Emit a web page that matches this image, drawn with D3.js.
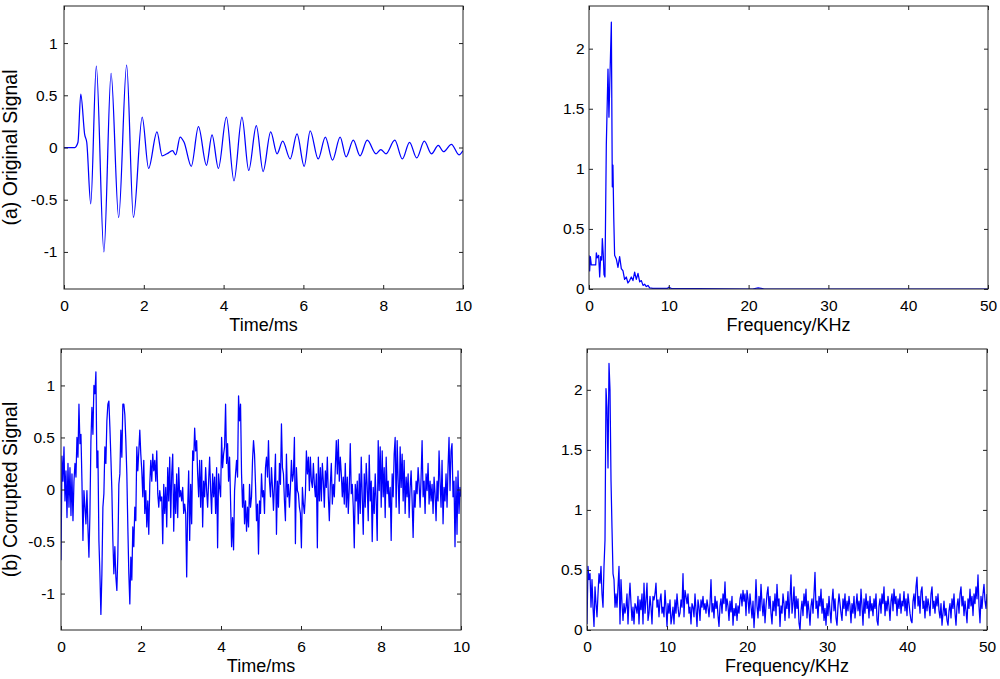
<!DOCTYPE html>
<html>
<head>
<meta charset="utf-8">
<script src="https://cdn.jsdelivr.net/npm/d3@7"></script>
<style>
  body { margin: 0; background: #fff; }
  svg text { font-family: "Liberation Sans", Arial, sans-serif; fill: #000; }
</style>
</head>
<body>
<svg id="chart" width="1000" height="679"></svg>
<script>
const origTime = [0, 0.27, 0.35, 0.42, 0.52, 0.57, 0.67, 0.81, 1.0, 1.18, 1.37, 1.57, 1.74, 1.96, 2.12, 2.33,
  2.46, 2.58, 2.72, 2.8, 2.91, 3.01, 3.19, 3.37, 3.57, 3.71, 3.87, 4.07, 4.26, 4.46, 4.63, 4.82, 4.99,
  5.18, 5.34, 5.48, 5.67, 5.84, 6.02, 6.17, 6.37, 6.55, 6.73, 6.92, 7.07, 7.25, 7.42, 7.6, 7.82, 7.94,
  8.07, 8.29, 8.48, 8.66, 8.84, 9.03, 9.21, 9.38, 9.51, 9.71, 9.9, 10];
const origValue = [0, 0, 0.05, 0.51, 0.12, 0.05, -0.54, 0.78, -1.0, 0.71, -0.67, 0.79, -0.67, 0.29, -0.2, 0.15,
  -0.08, -0.06, -0.03, -0.07, 0.1, 0.05, -0.18, 0.2, -0.17, 0.12, -0.2, 0.29, -0.32, 0.29, -0.22, 0.21, -0.23,
  0.15, -0.06, 0.06, -0.11, 0.13, -0.18, 0.16, -0.11, 0.1, -0.12, 0.1, -0.09, 0.07, -0.08, 0.07, -0.06, -0.02,
  -0.06, 0.07, -0.11, 0.05, -0.1, 0.06, -0.06, 0.02, -0.04, 0.03, -0.07, -0.03];

// spectrum of the original signal (frequency in KHz, magnitude)
const origFreq = [0, 0.08, 0.17, 0.29, 0.5, 0.84, 0.92, 1.04, 1.21, 1.34, 1.46, 1.59, 1.67, 1.8, 1.88, 2.0,
  2.17, 2.38, 2.5, 2.6, 2.8, 2.92, 3.0, 3.1, 3.21, 3.42, 3.63, 3.84, 4.05, 4.26, 4.46, 4.67, 4.88, 5.09,
  5.3, 5.51, 5.72, 5.93, 6.14, 6.35, 6.56, 6.77, 6.97, 7.18, 7.39, 7.6, 8.0, 9.8, 10.0, 10.3, 20.5, 21.2, 22, 50];
const origMag = [0.28, 0.15, 0.27, 0.2, 0.2, 0.2, 0.3, 0.26, 0.28, 0.1, 0.27, 0.24, 0.42, 0.27, 0.12, 0.1,
  1.2, 1.83, 1.43, 1.7, 2.22, 0.85, 1.03, 0.6, 0.28, 0.25, 0.18, 0.27, 0.17, 0.15, 0.08, 0.1, 0.05, 0.07,
  0.1, 0.07, 0.14, 0.08, 0.13, 0.06, 0.07, 0.03, 0.04, 0.02, 0.03, 0.01, 0.005, 0.005, 0.015, 0.005, 0, 0.01, 0, 0];

// (b) corrupted signal, evenly sampled over 0..10 ms
const noisyValue = [
  -0.68, 0.32, 0.08, 0.41, -0.11, 0.18, -0.27, 0.25, -0.17, 0.21,
  -0.25, 0.15, -0.30, 0.08, 0.25, 0.12, 0.50, 0.31, 0.82, 0.44,
  0.53, 0.08, -0.49, -0.01, -0.17, -0.33, -0.01, -0.36, -0.65, -0.23,
  0.47, 0.79, 0.53, 1.0, 0.92, 1.13, 0.21, 0.37, -0.49, -0.81,
  -1.2, -0.81, -0.17, -0.04, 0.41, 0.25, 0.66, 0.82, 0.85, 0.60,
  0.31, -0.01, -0.49, -0.81, -0.55, -0.84, -0.97, -0.62, 0.05, 0.15,
  0.57, 0.31, 0.82, 0.82, 0.72, 0.47, 0.15, -0.36, -0.81, -1.1,
  -0.65, -0.87, -0.36, -0.55, -0.17, -0.30, 0.41, 0.18, 0.37, 0.57,
  0.34, 0.18, -0.07, 0.28, -0.23, -0.01, -0.36, -0.11, -0.43, 0.05,
  0.28, 0.08, 0.34, 0.18, 0.28, 0.08, 0.37, -0.04, -0.17, -0.01,
  -0.11, -0.07, -0.52, 0.05, -0.23, 0.02, -0.36, 0.21, -0.11, 0.31,
  -0.27, 0.15, 0.34, -0.40, 0.05, -0.23, 0.15, -0.27, 0.21, -0.07,
  -0.01, -0.11, 0.02, -0.23, -0.14, -0.23, -0.84, -0.17, 0.18, -0.49,
  0.05, -0.33, 0.37, 0.28, 0.59, 0.37, 0.47, 0.15, -0.07, 0.28,
  -0.17, 0.28, -0.36, 0.08, -0.07, 0.21, -0.01, -0.17, 0.08, 0.31,
  -0.01, -0.23, 0.15, -0.07, 0.12, -0.23, 0.21, -0.56, 0.15, 0.02,
  -0.07, 0.50, 0.21, 0.34, 0.41, 0.82, 0.25, 0.44, 0.08, 0.31,
  -0.11, -0.55, -0.27, -0.58, -0.01, 0.15, 0.28, 0.12, 0.90, 0.66,
  0.82, 0.15, -0.17, 0.05, -0.33, -0.11, -0.40, -0.17, -0.36, 0.05,
  -0.17, -0.07, 0.28, 0.47, 0.34, 0.05, -0.30, -0.14, -0.62, -0.11,
  -0.23, 0.15, -0.07, -0.01, -0.23, 0.21, 0.31, 0.12, 0.47, 0.08,
  -0.07, 0.21, 0.02, -0.20, 0.05, 0.34, -0.43, 0.08, -0.17, 0.25,
  0.05, 0.63, 0.21, 0.15, -0.11, -0.30, 0.34, -0.07, 0.05, -0.17,
  0.02, 0.28, 0.08, 0.15, 0.50, -0.52, 0.21, -0.01, -0.04, -0.17,
  -0.23, -0.56, 0.02, -0.14, -0.23, -0.04, 0.37, 0.15, 0.31, -0.01,
  0.31, 0.08, 0.02, 0.25, 0.05, -0.07, 0.15, -0.56, 0.31, -0.11,
  0.21, -0.11, 0.25, 0.08, -0.17, 0.18, 0.02, 0.31, -0.07, -0.30,
  0.05, 0.25, -0.14, 0.05, -0.07, 0.21, 0.47, 0.15, 0.48, 0.08,
  0.31, 0.15, -0.07, 0.12, -0.14, 0.25, -0.17, 0.12, -0.23, 0.02,
  0.44, -0.04, 0.05, -0.17, -0.56, 0.05, -0.11, 0.08, -0.33, 0.15,
  -0.23, 0.31, -0.07, -0.43, 0.15, -0.17, 0.25, 0.02, -0.30, 0.33,
  -0.11, 0.08, -0.50, 0.02, -0.23, 0.15, -0.11, -0.49, 0.47, -0.01,
  0.41, -0.17, 0.37, -0.07, 0.21, -0.27, 0.31, -0.04, 0.08, -0.17,
  0.02, -0.49, 0.15, -0.07, 0.34, 0.50, -0.17, 0.47, 0.08, -0.23,
  0.41, 0.02, 0.34, -0.11, 0.28, -0.23, 0.12, -0.07, 0.15, -0.27,
  0.02, 0.18, -0.11, -0.46, -0.01, -0.17, 0.08, -0.04, 0.21, 0.05,
  -0.17, 0.12, 0.47, -0.07, 0.08, -0.23, 0.15, -0.01, 0.25, -0.14,
  0.08, -0.11, 0.05, -0.23, 0.12, -0.04, -0.30, 0.08, -0.11, 0.37,
  0.08, -0.17, 0.28, -0.33, 0.02, -0.11, 0.15, -0.17, 0.21, 0.50,
  -0.01, 0.37, 0.44, -0.07, 0.08, -0.55, 0.12, -0.43, 0.18, -0.23,
  0.02, -0.07];

// spectrum of the corrupted signal, evenly sampled over 0..50 KHz
const noisyMag = [
  0.05, 0.53, 0.42, 0.47, 0.19, 0.42, 0.19, 0.03, 0.36, 0.22, 0.11, 0.30, 0.47, 0.39, 0.53, 0.30, 0.19, 0.53,
  0.75, 2.01, 1.85, 1.35, 2.22, 2.0, 1.25, 0.85, 0.47,
  0.42, 0.19, 0.30, 0.19, 0.36, 0.53, 0.05, 0.42, 0.22, 0.08,
  0.22, 0.14, 0.19, 0.30, 0.05, 0.25, 0.39, 0.22, 0.08, 0.19,
  0.05, 0.22, 0.19, 0.14, 0.28, 0.05, 0.25, 0.17, 0.30, 0.05,
  0.39, 0.14, 0.25, 0.39, 0.08, 0.14, 0.28, 0.19, 0.05, 0.28,
  0.25, 0.30, 0.39, 0.19, 0.25, 0.11, 0.25, 0.30, 0.14, 0.19,
  0.11, 0.33, 0.19, 0.03, 0.22, 0.14, 0.25, 0.05, 0.11, 0.19,
  0.05, 0.25, 0.14, 0.30, 0.19, 0.11, 0.14, 0.25, 0.19, 0.47,
  0.11, 0.33, 0.28, 0.22, 0.30, 0.14, 0.19, 0.05, 0.22, 0.19,
  0.11, 0.30, 0.17, 0.03, 0.25, 0.19, 0.08, 0.25, 0.19, 0.28,
  0.17, 0.22, 0.14, 0.25, 0.19, 0.11, 0.22,
  0.42, 0.15, 0.22, 0.10, 0.28, 0.18, 0.24, 0.12, 0.03, 0.20,
  0.26, 0.14, 0.30, 0.22, 0.40, 0.16, 0.26, 0.20, 0.08, 0.24,
  0.15, 0.28, 0.04, 0.18, 0.12, 0.22, 0.08, 0.20, 0.14, 0.26,
  0.30, 0.20, 0.33, 0.24, 0.30, 0.12, 0.33, 0.26, 0.14, 0.30,
  0.20, 0.10, 0.24, 0.02, 0.18, 0.42, 0.20, 0.10, 0.28, 0.16,
  0.38, 0.22, 0.12, 0.26, 0.06, 0.20, 0.30, 0.36, 0.18, 0.28,
  0.14, 0.05, 0.24, 0.16, 0.30, 0.12, 0.38, 0.20, 0.26, 0.03,
  0.20, 0.14, 0.30, 0.22, 0.08, 0.24, 0.18, 0.32, 0.10, 0.26,
  0.46, 0.14, 0.22, 0.36, 0.10, 0.28, 0.18, 0.26, 0.06, 0.00,
  0.16, 0.24, 0.12, 0.30, 0.20, 0.34, 0.10, 0.24, 0.16, 0.04,
  0.20, 0.26, 0.14, 0.30, 0.48, 0.18, 0.24, 0.10, 0.28, 0.20,
  0.34, 0.14, 0.26, 0.08, 0.18, 0.04, 0.22, 0.12, 0.28, 0.16,
  0.06, 0.24, 0.34, 0.16, 0.26, 0.10, 0.04, 0.20, 0.30, 0.22,
  0.14, 0.08, 0.26, 0.18, 0.30, 0.12, 0.24, 0.16, 0.28, 0.20,
  0.06, 0.22, 0.14, 0.28, 0.10, 0.20, 0.30, 0.16, 0.24, 0.12,
  0.34, 0.20, 0.04, 0.26, 0.14, 0.30, 0.18, 0.24, 0.10, 0.28,
  0.16, 0.22, 0.12, 0.26, 0.18, 0.30, 0.08, 0.04, 0.20, 0.26,
  0.14, 0.30, 0.22, 0.36, 0.12, 0.24, 0.16, 0.28, 0.20, 0.08,
  0.24, 0.30, 0.16, 0.34, 0.22, 0.28, 0.12, 0.26, 0.18, 0.30,
  0.14, 0.24, 0.20, 0.32, 0.16, 0.26, 0.12, 0.30, 0.22, 0.14,
  0.08, 0.06, 0.24, 0.30, 0.18, 0.36, 0.44, 0.20, 0.28, 0.14,
  0.32, 0.36, 0.18, 0.24, 0.10, 0.28, 0.16, 0.26, 0.20, 0.12,
  0.30, 0.36, 0.18, 0.24, 0.14, 0.28, 0.20, 0.30, 0.16, 0.10,
  0.22, 0.04, 0.14, 0.24, 0.12, 0.18, 0.08, 0.04, 0.16, 0.22,
  0.10, 0.26, 0.18, 0.30, 0.14, 0.04, 0.20, 0.26, 0.14, 0.30,
  0.36, 0.20, 0.28, 0.12, 0.24, 0.16, 0.06, 0.26, 0.18, 0.34,
  0.20, 0.28, 0.12, 0.30, 0.22, 0.36, 0.26, 0.46, 0.20, 0.06,
  0.28, 0.18, 0.30, 0.38, 0.24, 0.18, 0.30];

const timeTicks = [0, 2, 4, 6, 8, 10];
const freqTicks = [0, 10, 20, 30, 40, 50];
const signalTicks = [-1, -0.5, 0, 0.5, 1];
const magTicks = [0, 0.5, 1, 1.5, 2];

const svg = d3.select('#chart');
const blue = '#0000ff';

// evenly spaced samples -> [x, y] pairs
function spread(values, span) {
  return values.map((v, i) => [i * span / (values.length - 1), v]);
}

function panel(o) {
  const x = d3.scaleLinear().domain(o.xDomain).range([o.left, o.right]);
  const y = d3.scaleLinear().domain(o.yDomain).range([o.bottom, o.top]);
  const g = svg.append('g');

  g.append('clipPath').attr('id', o.id)
    .append('rect')
    .attr('x', o.left).attr('y', o.top)
    .attr('width', o.right - o.left).attr('height', o.bottom - o.top);

  const line = d3.line()
    .x(d => x(d[0]))
    .y(d => y(d[1]))
    .curve(o.curve || d3.curveLinear);

  g.append('path')
    .datum(o.data)
    .attr('clip-path', `url(#${o.id})`)
    .attr('fill', 'none')
    .attr('stroke', blue)
    .attr('stroke-width', 1.25)
    .attr('stroke-linejoin', 'round')
    .attr('d', line);

  const fmt = d => String(d);
  const axes = [
    [d3.axisBottom(x).tickValues(o.xTicks).tickFormat(fmt).tickPadding(10.5), `translate(0,${o.bottom})`],
    [d3.axisTop(x).tickValues(o.xTicks).tickFormat(''), `translate(0,${o.top})`],
    [d3.axisLeft(y).tickValues(o.yTicks).tickFormat(fmt).tickPadding(o.yPad), `translate(${o.left},0)`],
    [d3.axisRight(y).tickValues(o.yTicks).tickFormat(''), `translate(${o.right},0)`]
  ];
  axes.forEach(([ax, tr]) => {
    const a = g.append('g').attr('transform', tr)
      .call(ax.tickSizeInner(-4).tickSizeOuter(0));
    a.select('.domain').remove();
    a.selectAll('line').attr('stroke', '#222');
    a.selectAll('text').attr('font-size', 15.5).attr('fill', '#000');
  });

  g.append('rect')
    .attr('x', o.left).attr('y', o.top)
    .attr('width', o.right - o.left).attr('height', o.bottom - o.top)
    .attr('fill', 'none').attr('stroke', '#222').attr('stroke-width', 1);

  g.append('text')
    .attr('x', (o.left + o.right) / 2)
    .attr('y', o.bottom + 42)
    .attr('text-anchor', 'middle')
    .attr('font-size', 18)
    .text(o.xLabel);

  if (o.yLabel) {
    g.append('text')
      .attr('transform', `translate(17,${(o.top + o.bottom) / 2}) rotate(-90)`)
      .attr('text-anchor', 'middle')
      .attr('font-size', 19.5)
      .text(o.yLabel);
  }
}

panel({
  id: 'clipA', left: 64, right: 463, top: 6, bottom: 289,
  xDomain: [0, 10], yDomain: [-1.355, 1.355], xTicks: timeTicks, yTicks: signalTicks, yPad: 6.5,
  data: origTime.map((t, i) => [t, origValue[i]]), curve: d3.curveMonotoneX,
  xLabel: 'Time/ms', yLabel: '(a) Original Signal'
});

panel({
  id: 'clipB', left: 589, right: 988, top: 6, bottom: 289,
  xDomain: [0, 50], yDomain: [0, 2.355], xTicks: freqTicks, yTicks: magTicks, yPad: 4.5,
  data: origFreq.map((f, i) => [f, origMag[i]]),
  xLabel: 'Frequency/KHz'
});

panel({
  id: 'clipC', left: 61, right: 461, top: 349, bottom: 630,
  xDomain: [0, 10], yDomain: [-1.35, 1.35], xTicks: timeTicks, yTicks: signalTicks, yPad: 6,
  data: spread(noisyValue, 10),
  xLabel: 'Time/ms', yLabel: '(b) Corrupted Signal'
});

panel({
  id: 'clipD', left: 587, right: 987, top: 349, bottom: 630,
  xDomain: [0, 50], yDomain: [0, 2.34], xTicks: freqTicks, yTicks: magTicks, yPad: 4.5,
  data: spread(noisyMag, 50),
  xLabel: 'Frequency/KHz'
});
</script>
</body>
</html>
